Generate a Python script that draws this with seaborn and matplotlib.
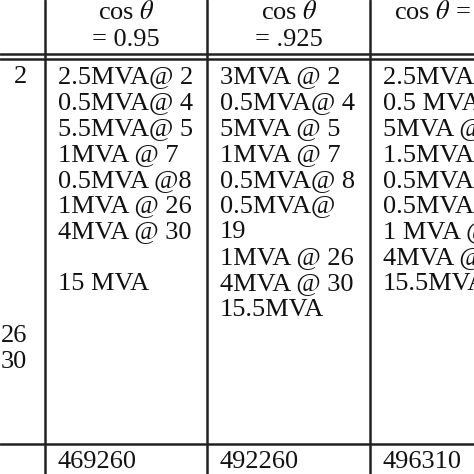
import matplotlib.pyplot as plt
import seaborn as sns

sns.set_style("white")
plt.rcParams['font.family'] = ['Liberation Serif', 'DejaVu Serif']
plt.rcParams['mathtext.fontset'] = 'stix'

# table content
headers = [["cos $\\theta$", "= 0.95"],
           ["cos $\\theta$", "= .925"],
           ["cos $\\theta$ = 0.9", ""]]
col0 = ["2", "", "", "", "", "", "", "", "", "", "26", "30"]
col1 = ["2.5MVA@ 2", "0.5MVA@ 4", "5.5MVA@ 5", "1MVA @ 7", "0.5MVA @8",
        "1MVA @ 26", "4MVA @ 30", "", "15 MVA"]
col2 = ["3MVA @ 2", "0.5MVA@ 4", "5MVA @ 5", "1MVA @ 7", "0.5MVA@ 8",
        "0.5MVA@", "19", "1MVA @ 26", "4MVA @ 30", "15.5MVA"]
col3 = ["2.5MVA @ 2", "0.5 MVA @ 4", "5MVA @ 5", "1.5MVA @ 7", "0.5MVA @ 8",
        "0.5MVA @ 19", "1 MVA @ 26", "4MVA @ 30", "15.5MVA"]
totals = ["", "469260", "492260", "496310"]

fig = plt.figure(figsize=(4.74, 4.74), dpi=100)
ax = fig.add_axes([0, 0, 1, 1])
ax.set_xlim(0, 474)
ax.set_ylim(474, 0)
ax.axis('off')

lw = 1.8
col_x = [45, 207, 370]
for x in col_x:
    ax.plot([x, x], [0, 474], color='#222222', lw=lw)
ax.plot([0, 474], [54, 54], color='#222222', lw=lw)
ax.plot([0, 474], [58.5, 58.5], color='#222222', lw=lw)
ax.plot([0, 474], [444, 444], color='#222222', lw=lw)

fs = 19
line_h = 25.9
body_y0 = 77
tc = '#111111'

centers = [126, 289, 452]
for c, (h1, h2) in zip(centers, headers):
    ax.text(c, 12, h1, fontsize=fs, ha='center', va='center', color=tc)
    ax.text(c, 40, h2, fontsize=fs, ha='center', va='center', color=tc)

for i, t in enumerate(col0):
    ax.text(27, body_y0 + i * line_h, t, fontsize=fs, ha='right', va='center', color=tc)
for x0, col in zip([58, 220, 383], [col1, col2, col3]):
    for i, t in enumerate(col):
        ax.text(x0, body_y0 + i * line_h, t, fontsize=fs, ha='left', va='center', color=tc)

for x0, t in zip([0, 58, 220, 383], totals):
    ax.text(x0, 462, t, fontsize=fs, ha='left', va='center', color=tc)

fig.savefig('out.png', dpi=100)
